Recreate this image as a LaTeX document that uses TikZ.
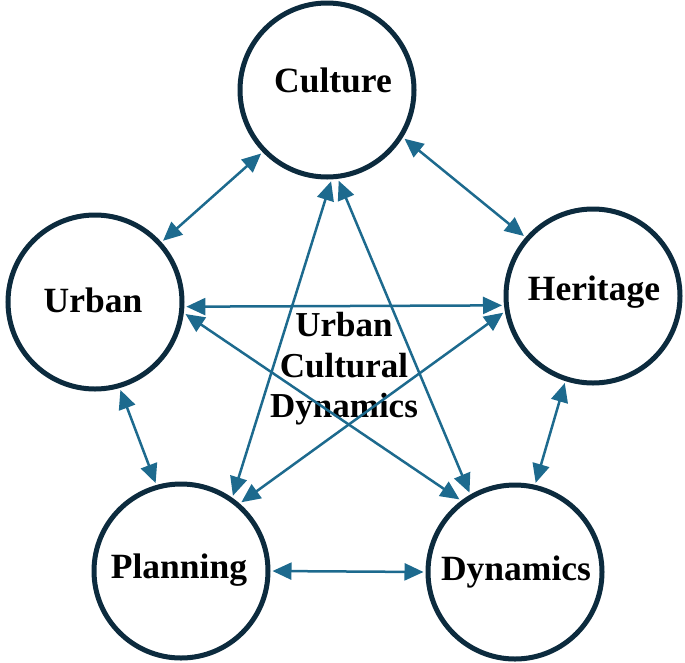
\documentclass[tikz,border=0pt]{standalone}
\usepackage{fontspec}
\setmainfont{Liberation Serif}
\usetikzlibrary{arrows.meta}
\definecolor{ringc}{HTML}{0C2B3E}
\definecolor{arrc}{HTML}{1D6A8E}
\begin{document}
\begin{tikzpicture}[x=1pt,y=-1pt,
  ring/.style={circle,draw=ringc,line width=5pt,minimum size=174pt,inner sep=0pt},
  word/.style={font=\bfseries\fontsize{35.5}{40}\selectfont,inner sep=0pt,anchor=base},
  midword/.style={font=\bfseries\fontsize{35}{40.5}\selectfont,inner sep=0pt,align=center},
  link/.style={draw=arrc,line width=2.5pt,{Triangle[length=19pt,width=17pt]}-{Triangle[length=19pt,width=17pt]},shorten <=2pt,shorten >=2pt}]
\useasboundingbox (0,0) rectangle (685,662);
\node[ring] (culture) at (327,90) {};
\node[ring] (urban) at (95,302) {};
\node[ring] (heritage) at (593,296) {};
\node[ring] (planning) at (181,571) {};
\node[ring] (dynamics) at (515,572) {};
\node[word] (tculture) at (333,92) {Culture};
\node[word] (turban) at (93,312) {Urban};
\node[word] (theritage) at (594,300) {Heritage};
\node[word] (tplanning) at (179,578) {Planning};
\node[word] (tdynamics) at (516,580) {Dynamics};
\node[midword] (tcenter) at (344,369) {Urban\\Cultural\\Dynamics};
\draw[link] (culture.224) -- (urban.42);
\draw[link] (culture.328) -- (heritage.139);
\draw[link] (urban.-3) -- (heritage.186);
\draw[link] (urban.-74) -- (planning.106);
\draw[link] (urban.-7) -- (dynamics.127);
\draw[link] (culture.273) -- (planning.55);
\draw[link] (culture.277) -- (dynamics.120);
\draw[link] (heritage.190) -- (planning.49);
\draw[link] (heritage.252) -- (dynamics.77);
\draw[link] (planning.0) -- (dynamics.180);
\end{tikzpicture}
\end{document}
